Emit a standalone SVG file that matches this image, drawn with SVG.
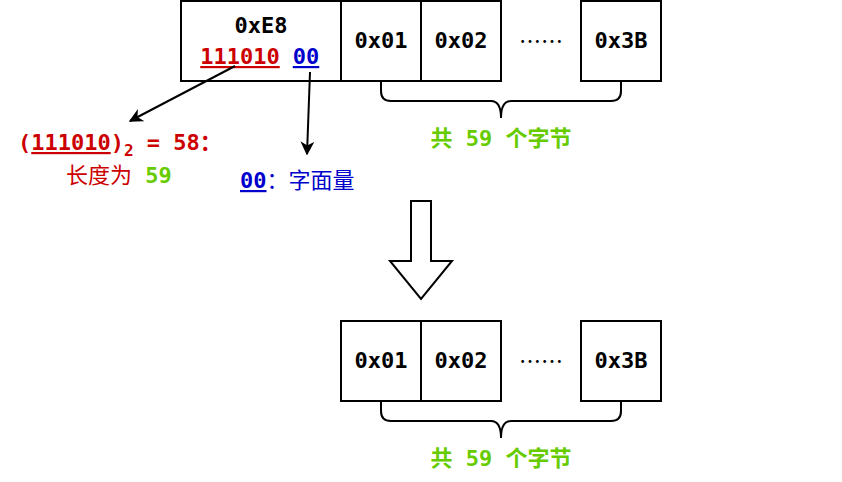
<svg xmlns="http://www.w3.org/2000/svg" width="842" height="482" viewBox="0 0 842 482">
<defs>
<style>
.b{fill:#fff;stroke:#000;stroke-width:2}
.t{font-family:"DejaVu Sans Mono","Noto Sans CJK SC",monospace;font-weight:bold;font-size:22px}
.m{text-anchor:middle}
.c{font-family:"DejaVu Sans Mono","Noto Sans CJK SC",monospace;font-size:22px}
.e{font-family:"Noto Sans CJK SC",sans-serif;font-size:22px;text-anchor:middle}
.r{fill:#CC0000}.u{fill:#0000CC}.g{fill:#66CC00}
.l{fill:none;stroke:#000;stroke-width:2}
</style>
<marker id="ah" viewBox="0 0 10 10" refX="9" refY="5" markerWidth="7" markerHeight="7" orient="auto"><path d="M0,0 L10,5 L0,10 L3,5 Z" fill="#000"/></marker>
</defs>
<g id="top-e8"><rect class="b" x="181" y="1" width="160" height="80"/>
<text class="t m" x="261" y="33">0xE8</text>
<text class="t m r" x="240" y="64" text-decoration="underline">111010</text>
<text class="t m u" x="306" y="64" text-decoration="underline">00</text></g>
<g id="top-01"><rect class="b" x="341" y="1" width="80" height="80"/><text class="t m" x="381" y="48">0x01</text></g>
<g id="top-02"><rect class="b" x="421" y="1" width="80" height="80"/><text class="t m" x="461" y="48">0x02</text></g>
<text class="e" x="541" y="49">……</text>
<g id="top-3b"><rect class="b" x="581" y="1" width="80" height="80"/><text class="t m" x="621" y="48">0x3B</text></g>
<g id="bot-01"><rect class="b" x="341" y="321" width="80" height="80"/><text class="t m" x="381" y="368">0x01</text></g>
<g id="bot-02"><rect class="b" x="421" y="321" width="80" height="80"/><text class="t m" x="461" y="368">0x02</text></g>
<text class="e" x="541" y="369">……</text>
<g id="bot-3b"><rect class="b" x="581" y="321" width="80" height="80"/><text class="t m" x="621" y="368">0x3B</text></g>
<g id="connectors">
<path class="l" d="M381,81 V91 Q381,101 391,101 H491 Q501,101 501,118 Q501,101 511,101 H611 Q621,101 621,91 V81"/>
<path class="l" d="M381,401 V411 Q381,421 391,421 H491 Q501,421 501,438 Q501,421 511,421 H611 Q621,421 621,411 V401"/>
<line class="l" x1="235" y1="66" x2="130" y2="121" marker-end="url(#ah)"/>
<line class="l" x1="310" y1="72" x2="307" y2="154" marker-end="url(#ah)"/>
<path class="b" d="M411,201 H431 V261 H452 L421,299 L390,261 H411 Z"/>
</g>
<g id="labels">
<text class="t m g" x="501" y="146">共 59 个字节</text>
<text class="t m g" x="501" y="466">共 59 个字节</text>
<text class="t r" x="18" y="150">(<tspan text-decoration="underline">111010</tspan>)<tspan font-size="16" dy="6">2</tspan><tspan dy="-6"> = 58：</tspan></text>
<text class="c r" x="66" y="183">长度为 <tspan class="g" font-weight="bold">59</tspan></text>
<text class="c u" x="240" y="188"><tspan font-weight="bold" text-decoration="underline">00</tspan>：字面量</text>
</g>
</svg>
